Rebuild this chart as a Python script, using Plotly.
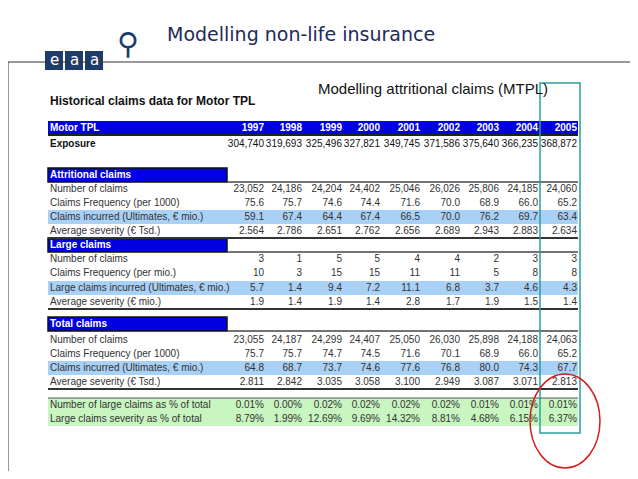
import plotly.graph_objects as go

years = ["1997","1998","1999","2000","2001","2002","2003","2004","2005"]
exposure = ["304,740","319,693","325,496","327,821","349,745","371,586","375,640","366,235","368,872"]

attr_labels = ["Number of claims","Claims Frequency (per 1000)","Claims incurred (Ultimates, € mio.)","Average severity (€ Tsd.)"]
attr_vals = [
    ["23,052","24,186","24,204","24,402","25,046","26,026","25,806","24,185","24,060"],
    ["75.6","75.7","74.6","74.4","71.6","70.0","68.9","66.0","65.2"],
    ["59.1","67.4","64.4","67.4","66.5","70.0","76.2","69.7","63.4"],
    ["2.564","2.786","2.651","2.762","2.656","2.689","2.943","2.883","2.634"],
]
large_labels = ["Number of claims","Claims Frequency (per mio.)","Large claims incurred (Ultimates, € mio.)","Average severity (€ mio.)"]
large_vals = [
    ["3","1","5","5","4","4","2","3","3"],
    ["10","3","15","15","11","11","5","8","8"],
    ["5.7","1.4","9.4","7.2","11.1","6.8","3.7","4.6","4.3"],
    ["1.9","1.4","1.9","1.4","2.8","1.7","1.9","1.5","1.4"],
]
total_labels = ["Number of claims","Claims Frequency (per 1000)","Claims incurred (Ultimates, € mio.)","Average severity (€ Tsd.)"]
total_vals = [
    ["23,055","24,187","24,299","24,407","25,050","26,030","25,898","24,188","24,063"],
    ["75.7","75.7","74.7","74.5","71.6","70.1","68.9","66.0","65.2"],
    ["64.8","68.7","73.7","74.6","77.6","76.8","80.0","74.3","67.7"],
    ["2.811","2.842","3.035","3.058","3.100","2.949","3.087","3.071","2.813"],
]
pct_labels = ["Number of large claims as % of total","Large claims severity as % of total"]
pct_vals = [
    ["0.01%","0.00%","0.02%","0.02%","0.02%","0.02%","0.01%","0.01%","0.01%"],
    ["8.79%","1.99%","12.69%","9.69%","14.32%","8.81%","4.68%","6.15%","6.37%"],
]

col_x = [264,302,342,380,420,460,499,538,577]
L, R = 48, 578
FONT = "Liberation Sans, Arial"
FS = 10

fig = go.Figure()
shapes = []
ann = []

def rect(x0,y0,x1,y1,color,line=None):
    shapes.append(dict(type="rect",x0=x0,x1=x1,y0=y0,y1=y1,fillcolor=color,
                       line=dict(width=0) if line is None else line,layer="below"))

def hline(y,x0,x1,w=1.5,color="#333"):
    shapes.append(dict(type="line",x0=x0,x1=x1,y0=y,y1=y,line=dict(color=color,width=w)))

def row(y,label,vals,color="#333",bold=False,bold_vals=None):
    if bold_vals is None:
        bold_vals = bold
    lab = f"<b>{label}</b>" if bold else label
    fig.add_trace(go.Scatter(x=[L+2],y=[y],mode="text",text=[lab],textposition="middle right",
                             textfont=dict(family=FONT,size=FS,color=color),hoverinfo="skip"))
    tv = [f"<b>{v}</b>" for v in vals] if bold_vals else vals
    fig.add_trace(go.Scatter(x=col_x,y=[y]*len(vals),mode="text",text=tv,textposition="middle left",
                             textfont=dict(family=FONT,size=FS,color=color),hoverinfo="skip"))

# header
rect(L,121,R,134,"#0000e0")
hline(135,L,R,2,"#222")
row(128,"Motor TPL",years,"white",True)
row(144,"Exposure",exposure,"#111",True,False)

def section(ytop,title,labels,vals,ys):
    rect(L,ytop-7,227,ytop+7,"#0000e0",dict(color="#111",width=1.5))
    hline(ytop+7,227,R,1.5,"#444")
    fig.add_trace(go.Scatter(x=[L+2],y=[ytop],mode="text",text=[f"<b>{title}</b>"],textposition="middle right",
                             textfont=dict(family=FONT,size=FS,color="white"),hoverinfo="skip"))
    rect(L,ys[2]-7,R,ys[2]+7,"#a9d0f5")
    hline(ys[3]+7,L,R,2,"#333")
    for y,lab,v in zip(ys,labels,vals):
        row(y,lab,v)

section(175,"Attritional claims",attr_labels,attr_vals,[189,203,217,231])
section(245,"Large claims",large_labels,large_vals,[259,273,288,302])
section(324,"Total claims",total_labels,total_vals,[340,354,368,382])
rect(L,398,R,426,"#c8f5c0")
hline(398,L,R,1,"#555")
for y,lab,v in zip([405,419],pct_labels,pct_vals):
    row(y,lab,v)

# teal box and red circle
shapes.append(dict(type="rect",x0=540,x1=580,y0=83,y1=433,line=dict(color="#2aa0a0",width=1.5)))
shapes.append(dict(type="circle",x0=530,x1=600,y0=374,y1=468,line=dict(color="#d02020",width=1.5)))

# frame lines
hline(62,8,638,1,"#333")
shapes.append(dict(type="line",x0=8,x1=8,y0=62,y1=479,line=dict(color="#333",width=1)))
# logo
rect(40,51,108,70,"white")
for i,ch in enumerate(["e","a","a"]):
    rect(45+i*20,51,63+i*20,70,"#1e3b6e")
    ann.append(dict(x=54+i*20,y=60,text=ch,showarrow=False,font=dict(family="DejaVu Sans",size=15,color="white")))
rect(110,14,145,68,"white")
ann.append(dict(x=128,y=42,text="⚲",showarrow=False,font=dict(size=30,color="#1e3b6e")))

ann.append(dict(x=165,y=34,text="Modelling non-life insurance",showarrow=False,xanchor="left",
                font=dict(family="DejaVu Sans",size=19,color="#1e2a5a")))
ann.append(dict(x=316,y=88,text="Modelling attritional claims (MTPL)",showarrow=False,xanchor="left",
                font=dict(family=FONT,size=15,color="#111")))
ann.append(dict(x=48,y=101,text="<b>Historical claims data for Motor TPL</b>",showarrow=False,xanchor="left",
                font=dict(family=FONT,size=12,color="#111")))

O = 8
fig.update_layout(width=638-2*O,height=479-2*O,margin=dict(l=0,r=0,t=0,b=0),showlegend=False,
                  plot_bgcolor="white",paper_bgcolor="white",shapes=shapes,annotations=ann,
                  xaxis=dict(range=[O,638-O],visible=False,fixedrange=True),
                  yaxis=dict(range=[479-O,O],visible=False,fixedrange=True))
fig.write_html("out.html")
